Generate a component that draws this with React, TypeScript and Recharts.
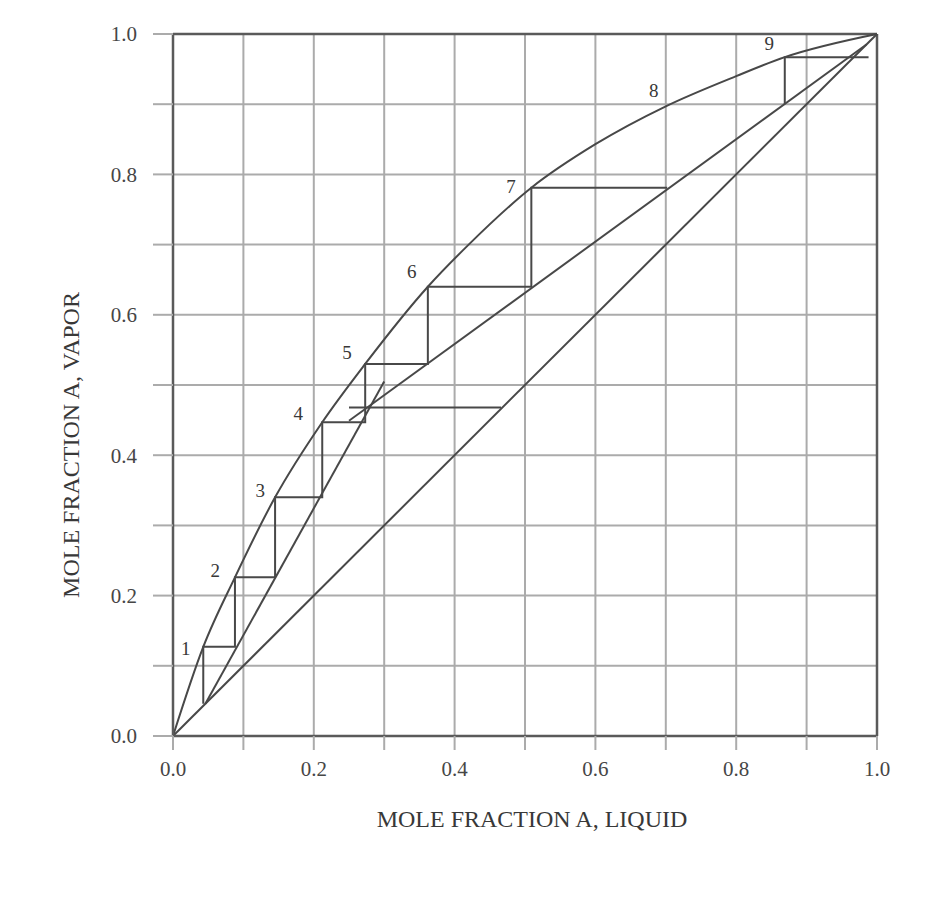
import React from 'react';
import {
  ComposedChart, Line, Scatter, XAxis, YAxis, CartesianGrid, ReferenceLine
} from 'recharts';

// axis ticks every 0.1, labels only on even tenths
const TICKS = [0, 0.1, 0.2, 0.3, 0.4, 0.5, 0.6, 0.7, 0.8, 0.9, 1];

// equilibrium curve
const eqX = [0, 0.043, 0.088, 0.145, 0.212, 0.273, 0.362, 0.42, 0.509, 0.6, 0.7, 0.8, 0.869, 1];
const eqY = [0, 0.127, 0.226, 0.34, 0.447, 0.53, 0.64, 0.7, 0.781, 0.843, 0.897, 0.94, 0.967, 1];

// 45 degree line
const diagX = [0, 1];
const diagY = [0, 1];

// rectifying operating line
const rectX = [0.25, 0.985];
const rectY = [0.449, 0.985];

// stripping operating line
const stripX = [0.046, 0.3];
const stripY = [0.046, 0.505];

// feed (q) line, saturated vapour
const feedX = [0.25, 0.466];
const feedY = [0.468, 0.468];

// top stage step (stage 8 sits on the grid lines and is not inked)
const topStepX = [0.988, 0.869, 0.869];
const topStepY = [0.967, 0.967, 0.9];

// remaining stage steps, from stage 7 down
const stepX = [0.702, 0.509, 0.509, 0.362, 0.362, 0.273, 0.273, 0.212, 0.212, 0.145, 0.145, 0.088, 0.088, 0.043, 0.043];
const stepY = [0.781, 0.781, 0.64, 0.64, 0.53, 0.53, 0.447, 0.447, 0.34, 0.34, 0.226, 0.226, 0.127, 0.127, 0.046];

// stage numbers
const stageNames = ['1', '2', '3', '4', '5', '6', '7', '8', '9'];
const stageX = [0.018, 0.06, 0.124, 0.178, 0.247, 0.339, 0.48, 0.683, 0.847];
const stageY = [0.125, 0.236, 0.35, 0.459, 0.547, 0.661, 0.783, 0.919, 0.986];

const zip = (xs: number[], ys: number[]) => xs.map((x, i) => ({ x, y: ys[i] }));

const eqData = zip(eqX, eqY);
const diagData = zip(diagX, diagY);
const rectData = zip(rectX, rectY);
const stripData = zip(stripX, stripY);
const feedData = zip(feedX, feedY);
const topStepData = zip(topStepX, topStepY);
const stepData = zip(stepX, stepY);
const stageData = stageNames.map((name, i) => ({ name, x: stageX[i], y: stageY[i] }));

const FONT = '"Liberation Serif", "Times New Roman", serif';
const LINE = '#484848';
const GRID = '#ababab';
const FRAME = '#5a5a5a';
const TEXT = '#383838';

const fmt = (v: number) => (Math.round(v * 10) % 2 === 0 ? v.toFixed(1) : '');

const StageLabel = (props: any) => {
  const { cx, cy, payload } = props;
  return (
    <text x={cx} y={cy} textAnchor="middle" dominantBaseline="central"
      fontFamily={FONT} fontSize={19} fill={TEXT}>
      {payload.name}
    </text>
  );
};

const XTitle = () => (
  <text x={524} y={819} textAnchor="middle" fontFamily={FONT} fontSize={24} fill={TEXT}>
    MOLE FRACTION A, LIQUID
  </text>
);

const YTitle = () => (
  <text x={63} y={445} textAnchor="middle" transform="rotate(-90, 63, 437)"
    fontFamily={FONT} fontSize={24} fill={TEXT}>
    MOLE FRACTION A, VAPOR
  </text>
);

export default function App() {
  const lineProps = {
    dataKey: 'y',
    stroke: LINE,
    strokeWidth: 2,
    dot: false,
    activeDot: false,
    isAnimationActive: false,
    legendType: 'none' as const,
  };

  return (
    <div style={{ width: 934, height: 889 }}>
      <ComposedChart
        width={934}
        height={889}
        margin={{ top: 26, right: 65, bottom: 131, left: 105 }}
      >
        <CartesianGrid stroke={GRID} strokeWidth={2} />
        <XAxis
          type="number"
          dataKey="x"
          domain={[0, 1]}
          ticks={TICKS}
          tickFormatter={fmt}
          interval={0}
          height={30}
          axisLine={{ stroke: FRAME, strokeWidth: 2.5 }}
          tickLine={{ stroke: GRID, strokeWidth: 2 }}
          tickSize={14}
          tickMargin={11}
          tick={{ fontFamily: FONT, fontSize: 21, fill: '#464646' }}
          label={<XTitle />}
        />
        <YAxis
          type="number"
          dataKey="y"
          domain={[0, 1]}
          ticks={TICKS}
          tickFormatter={fmt}
          interval={0}
          width={60}
          axisLine={{ stroke: FRAME, strokeWidth: 2.5 }}
          tickLine={{ stroke: GRID, strokeWidth: 2 }}
          tickSize={20}
          tickMargin={16}
          tick={{ fontFamily: FONT, fontSize: 21, fill: '#464646' }}
          label={<YTitle />}
        />
        <ReferenceLine y={1} stroke={FRAME} strokeWidth={2.5} />
        <ReferenceLine x={1} stroke={FRAME} strokeWidth={2.5} />

        <Line data={diagData} type="linear" {...lineProps} />
        <Line data={eqData} type="monotone" {...lineProps} />
        <Line data={rectData} type="linear" {...lineProps} />
        <Line data={stripData} type="linear" {...lineProps} />
        <Line data={feedData} type="linear" {...lineProps} />
        <Line data={topStepData} type="linear" {...lineProps} />
        <Line data={stepData} type="linear" {...lineProps} />
        <Scatter data={stageData} dataKey="y" shape={<StageLabel />}
          isAnimationActive={false} legendType="none" />
      </ComposedChart>
    </div>
  );
}
